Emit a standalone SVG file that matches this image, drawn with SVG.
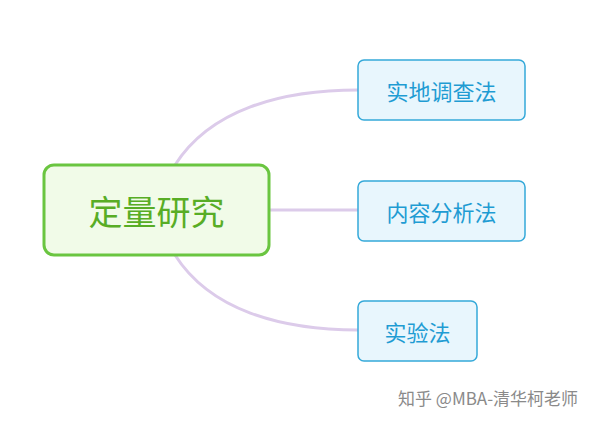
<svg xmlns="http://www.w3.org/2000/svg" width="600" height="422" viewBox="0 0 600 422">
<style>
.c{fill:none;stroke:#dccbea;stroke-width:3}
.s{fill:#e8f6fd;stroke:#35a9d9;stroke-width:1.5}
.st{font-family:"Noto Sans CJK SC",sans-serif;font-size:22px;fill:#1f9cd3;text-anchor:middle;dominant-baseline:central}
</style>
<rect width="600" height="422" fill="#fff"/>
<g id="connectors">
<path class="c" d="M175,165 C210,110 280,90 358,90"/>
<path class="c" d="M269,210 L358,210"/>
<path class="c" d="M175,255 C210,310 280,330 358,330"/>
</g>
<g id="main">
<rect x="44" y="165" width="225" height="90" rx="10" fill="#f1fbe8" stroke="#6ac540" stroke-width="3"/>
<text x="156.5" y="210" font-family="'Noto Sans CJK SC',sans-serif" font-size="34" fill="#58ad25" text-anchor="middle" dominant-baseline="central">定量研究</text>
</g>
<g id="n1"><rect class="s" x="358" y="60" width="167" height="60" rx="6"/><text class="st" x="441.5" y="90">实地调查法</text></g>
<g id="n2"><rect class="s" x="358" y="181" width="167" height="60" rx="6"/><text class="st" x="441.5" y="211">内容分析法</text></g>
<g id="n3"><rect class="s" x="358" y="301" width="119" height="60" rx="6"/><text class="st" x="417.5" y="331">实验法</text></g>
<text x="398" y="405" font-family="'Noto Sans CJK SC',sans-serif" font-size="17" fill="#8a8a8a">知乎 @MBA-清华柯老师</text>
</svg>
